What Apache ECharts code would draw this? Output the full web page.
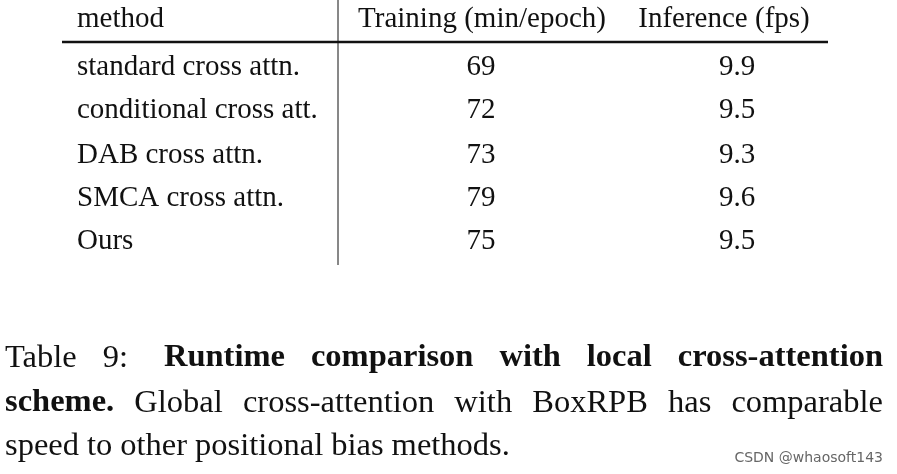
<!DOCTYPE html>
<html>
<head>
<meta charset="utf-8">
<script src="https://cdn.jsdelivr.net/npm/echarts@6/dist/echarts.min.js"></script>
<style>html,body{margin:0;padding:0;background:#fff}#chart{width:897px;height:474px}</style>
</head>
<body>
<div id="chart"></div>
<script>
const headers = ['method', 'Training (min/epoch)', 'Inference (fps)'];
const methods = ['standard cross attn.', 'conditional cross att.', 'DAB cross attn.', 'SMCA cross attn.', 'Ours'];
const training = ['69', '72', '73', '79', '75'];
const inference = ['9.9', '9.5', '9.3', '9.6', '9.5'];
const captionLines = [
  [['Table', 0], ['9:', 0], ['Runtime', 1], ['comparison', 1], ['with', 1], ['local', 1], ['cross-attention', 1]],
  [['scheme.', 1], ['Global', 0], ['cross-attention', 0], ['with', 0], ['BoxRPB', 0], ['has', 0], ['comparable', 0]],
  [['speed', 0], ['to', 0], ['other', 0], ['positional', 0], ['bias', 0], ['methods.', 0]]
];

const FONT = '"Liberation Serif", "Times New Roman", serif';
const chart = echarts.init(document.getElementById('chart'));
const ctx = document.createElement('canvas').getContext('2d');
const cellSize = 29, capSize = 32.5;
const elements = [];

function txt(x, y, s, size, align, weight) {
  elements.push({type: 'text', x: x, y: y, style: {text: s, fontFamily: FONT, fontSize: size, fontWeight: weight || 'normal', fill: '#111', align: align, verticalAlign: 'middle'}});
}

// header
txt(77, 19, headers[0], cellSize, 'left');
txt(482, 19, headers[1], cellSize, 'center');
txt(724, 19, headers[2], cellSize, 'center');
const rowY = [67, 110, 155, 198, 241];
methods.forEach((m, i) => {
  txt(77, rowY[i], m, cellSize, 'left');
  txt(481, rowY[i], training[i], cellSize, 'center');
  txt(737, rowY[i], inference[i], cellSize, 'center');
});
elements.push({type: 'line', shape: {x1: 62, y1: 42, x2: 828, y2: 42}, style: {stroke: '#111', lineWidth: 2.5}});
elements.push({type: 'line', shape: {x1: 338, y1: 0, x2: 338, y2: 265}, style: {stroke: '#111', lineWidth: 1}});

// caption, justified
const capY = [358, 403, 446];
captionLines.forEach((words, li) => {
  const widths = words.map(w => {
    ctx.font = (w[1] ? 'bold ' : '') + capSize + 'px ' + FONT;
    return ctx.measureText(w[0]).width;
  });
  const total = widths.reduce((a, b) => a + b, 0);
  const x0 = 5, x1 = 883;
  let gap = li < 2 ? (x1 - x0 - total) / (words.length - 1) : 8;
  if (li === 0) gap = (x1 - x0 - total - 10) / (words.length - 1);
  let x = x0;
  words.forEach((w, i) => {
    txt(x, capY[li], w[0], capSize, 'left', w[1] ? 'bold' : 'normal');
    x += widths[i] + gap + (li === 0 && i === 1 ? 10 : 0);
  });
});

elements.push({type: 'text', x: 883, y: 458, style: {text: 'CSDN @whaosoft143', fontFamily: '"DejaVu Sans", sans-serif', fontSize: 14, fill: '#666', align: 'right', verticalAlign: 'middle'}});

chart.setOption({backgroundColor: '#fff', graphic: {elements: elements}});
</script>
</body>
</html>
